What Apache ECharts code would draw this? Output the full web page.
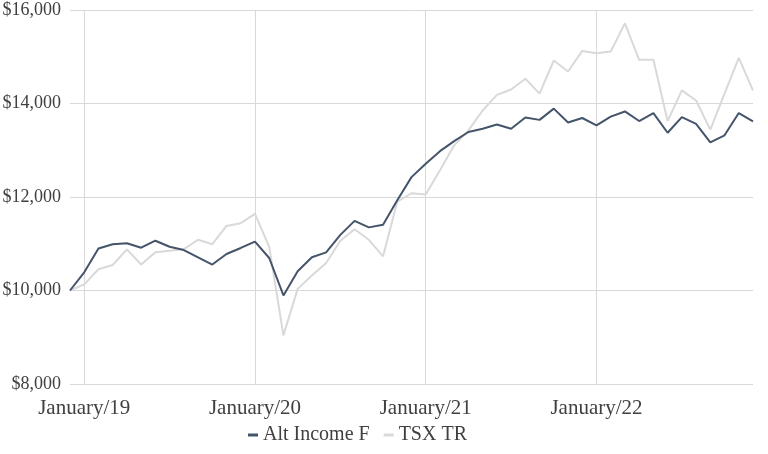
<!DOCTYPE html>
<html>
<head>
<meta charset="utf-8">
<script src="https://cdn.jsdelivr.net/npm/echarts@6/dist/echarts.min.js"></script>
<style>
  html, body { margin: 0; padding: 0; background: #fff; }
  #main { width: 768px; height: 454px; }
</style>
</head>
<body>
<div id="main"></div>
<script>
    // months, Dec 2018 .. Dec 2022
    var months = [
        'December/18',
        'January/19','February/19','March/19','April/19','May/19','June/19','July/19','August/19','September/19','October/19','November/19','December/19',
        'January/20','February/20','March/20','April/20','May/20','June/20','July/20','August/20','September/20','October/20','November/20','December/20',
        'January/21','February/21','March/21','April/21','May/21','June/21','July/21','August/21','September/21','October/21','November/21','December/21',
        'January/22','February/22','March/22','April/22','May/22','June/22','July/22','August/22','September/22','October/22','November/22','December/22'
    ];

    var altIncome = [
        10000,
        10390, 10900, 10990, 11010, 10915, 11065, 10935, 10865, 10710, 10555, 10780, 10910,
        11045, 10695, 9895, 10410, 10710, 10815, 11190, 11490, 11350, 11405, 11930, 12425,
        12710, 12980, 13195, 13390, 13460, 13550, 13460, 13700, 13650, 13890, 13595, 13690,
        13530, 13720, 13830, 13625, 13795, 13375, 13710, 13565, 13170, 13320, 13795, 13620
    ];

    var tsxTR = [
        10000,
        10130, 10455, 10545, 10880, 10555, 10820, 10850, 10885, 11085, 10990, 11380, 11440,
        11640, 10935, 9040, 10035, 10320, 10590, 11065, 11310, 11085, 10730, 11900, 12080,
        12055, 12570, 13105, 13425, 13850, 14185, 14300, 14530, 14210, 14920, 14685, 15125,
        15075, 15110, 15715, 14935, 14935, 13625, 14280, 14065, 13440, 14210, 14975, 14280
    ];

    var yTicks = { min: 8000, max: 16000, step: 2000 };

    var textFont = '"Liberation Serif", "DejaVu Serif", serif';
    var myChart = echarts.init(document.getElementById('main'));

    function isJanuary(idx) {
        return idx % 12 === 1;
    }

    var option = {
        animation: false,
        textStyle: { fontFamily: textFont },
        grid: {
            left: 70,
            right: 15,
            top: 10,
            bottom: 70,
            containLabel: false,
            outerBoundsMode: 'none'
        },
        legend: {
            top: 420,
            left: 243,
            icon: 'rect',
            itemWidth: 10,
            itemHeight: 3,
            itemGap: 14,
            textStyle: { fontFamily: textFont, fontSize: 20, color: '#404040' },
            data: ['Alt Income F', 'TSX TR']
        },
        xAxis: {
            type: 'category',
            boundaryGap: false,
            data: months,
            axisLine: { show: false },
            axisTick: { show: false },
            axisLabel: {
                interval: isJanuary,
                margin: 14,
                fontFamily: textFont,
                fontSize: 21,
                color: '#404040'
            },
            splitLine: {
                show: true,
                interval: isJanuary,
                lineStyle: { color: '#d9d9d9', width: 1 }
            }
        },
        yAxis: {
            type: 'value',
            min: yTicks.min,
            max: yTicks.max,
            interval: yTicks.step,
            axisLine: { show: false },
            axisTick: { show: false },
            axisLabel: {
                margin: 9,
                fontFamily: textFont,
                fontSize: 18,
                color: '#404040',
                formatter: function (v) {
                    return '$' + v.toLocaleString('en-US');
                }
            },
            splitLine: { lineStyle: { color: '#d9d9d9', width: 1 } }
        },
        series: [
            {
                name: 'Alt Income F',
                type: 'line',
                data: altIncome,
                showSymbol: false,
                z: 3,
                lineStyle: { color: '#44546a', width: 2 },
                itemStyle: { color: '#44546a' }
            },
            {
                name: 'TSX TR',
                type: 'line',
                data: tsxTR,
                showSymbol: false,
                z: 2,
                lineStyle: { color: '#d9d9d9', width: 2 },
                itemStyle: { color: '#d9d9d9' }
            }
        ]
    };

    myChart.setOption(option);
</script>
</body>
</html>
